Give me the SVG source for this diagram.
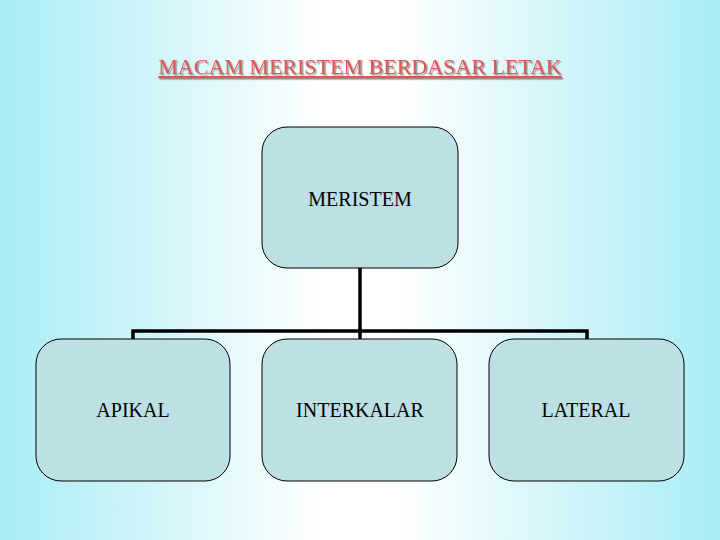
<svg xmlns="http://www.w3.org/2000/svg" width="720" height="540" viewBox="0 0 720 540">
<defs>
<linearGradient id="bg" x1="0" y1="0" x2="1" y2="0">
<stop offset="0" stop-color="#a8ecf4"/>
<stop offset="0.45" stop-color="#ffffff"/>
<stop offset="0.55" stop-color="#ffffff"/>
<stop offset="1" stop-color="#a8ecf4"/>
</linearGradient>
<filter id="shadow" x="-5%" y="-30%" width="110%" height="160%">
<feDropShadow dx="1.5" dy="1.5" stdDeviation="0.3" flood-color="#888888" flood-opacity="0.9"/>
</filter>
<style>
.box{fill:#bce0e3;stroke:#000;stroke-width:1}
.lbl{font-family:'Liberation Serif','Times New Roman',serif;font-size:20px;fill:#000;text-anchor:middle}
.conn{fill:none;stroke:#000;stroke-width:3.5}
.title{font-family:'Liberation Serif','Times New Roman',serif;font-size:22px;text-anchor:middle;text-decoration:underline;fill:#e05555}
</style>
</defs>
<rect width="720" height="540" fill="url(#bg)"/>
<g id="title">
<text class="title" x="360" y="74" filter="url(#shadow)">MACAM MERISTEM BERDASAR LETAK</text>
</g>
<g id="connectors">
<path class="conn" d="M360 268 V331"/>
<path class="conn" d="M133 339 V331 H587 V339"/>
<path class="conn" d="M360 331 V339"/>
</g>
<g id="meristem">
<rect class="box" x="262" y="127" width="196" height="141" rx="25"/>
<text class="lbl" x="360" y="206">MERISTEM</text>
</g>
<g id="apikal">
<rect class="box" x="36" y="339" width="194" height="142" rx="25"/>
<text class="lbl" x="133" y="417">APIKAL</text>
</g>
<g id="interkalar">
<rect class="box" x="262" y="339" width="195" height="142" rx="25"/>
<text class="lbl" x="360" y="417">INTERKALAR</text>
</g>
<g id="lateral">
<rect class="box" x="489" y="339" width="195" height="142" rx="25"/>
<text class="lbl" x="586" y="417">LATERAL</text>
</g>
</svg>
